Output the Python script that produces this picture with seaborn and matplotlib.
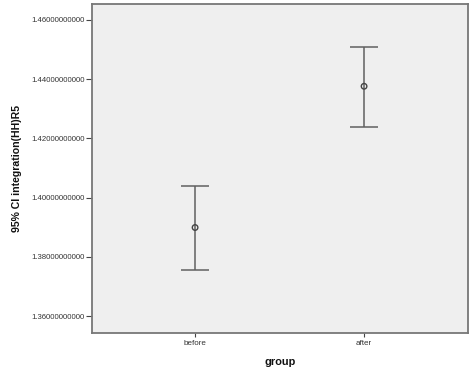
import matplotlib
matplotlib.use("Agg")
import matplotlib.pyplot as plt
import matplotlib.ticker as mticker
import seaborn as sns
import pandas as pd

groups = ["before", "after"]
means = [1.3899, 1.4376]
lower = [1.3756, 1.4237]
upper = [1.4040, 1.4509]
yticks = [1.36, 1.38, 1.40, 1.42, 1.44, 1.46]

sns.set_style("white")
plt.rcParams['font.family'] = ['Liberation Sans', 'DejaVu Sans']

df = pd.DataFrame({"group": groups, "mean": means, "lower": lower, "upper": upper})

fig = plt.figure(figsize=(4.74, 3.79), dpi=100)
ax = fig.add_axes([92/474, (379-333)/379, (468-92)/474, (333-3.5)/379])
ax.set_facecolor("#efefef")

line_col = "#606060"
for i, row in df.iterrows():
    ax.errorbar([i], [row["mean"]],
                yerr=[[row["mean"] - row["lower"]], [row["upper"] - row["mean"]]],
                fmt="none", ecolor=line_col, elinewidth=1.1, capsize=10.3, capthick=1.1, zorder=2)
sns.scatterplot(data=df, x="group", y="mean", ax=ax, marker="o", s=16,
                facecolor="none", edgecolor="#444444", linewidth=1.0, zorder=3)

ax.set_xlim(-0.61, 1.615)
ax.set_ylim(1.36 - 17/2970, 1.46 + 16.5/2970)
ax.set_yticks(yticks)
ax.yaxis.set_major_formatter(mticker.FormatStrFormatter('%.11f'))
ax.set_xticks([0, 1])
ax.set_xticklabels(groups)

ax.tick_params(axis='y', labelsize=5.6, length=4, width=0.8, color="#444444", labelcolor="#333333", pad=1, left=True)
ax.tick_params(axis='x', labelsize=5.8, length=3, width=0.8, color="#444444", labelcolor="#333333", pad=2, bottom=True)

for s in ax.spines.values():
    s.set_color("#777777")
    s.set_linewidth(1.3)
    s.set_visible(True)

ax.set_ylabel("95% CI integration(HH)R5", fontsize=7.6, fontweight="bold", color="#111111")
ax.set_xlabel("group", fontsize=7.9, fontweight="bold", color="#111111")
ax.yaxis.set_label_coords(-(92-22)/376, 0.5)
ax.xaxis.set_label_coords(0.5, -(357-333)/329.5)

fig.savefig("out.png", dpi=100, facecolor="white")
